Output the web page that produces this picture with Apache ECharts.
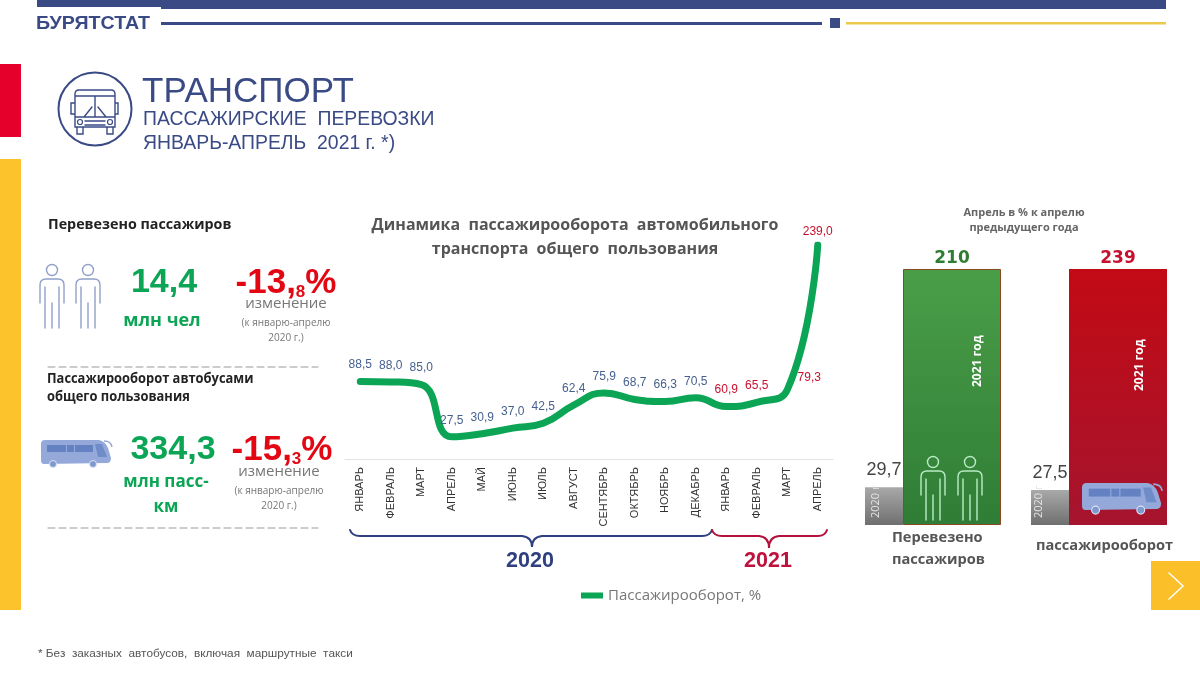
<!DOCTYPE html>
<html>
<head>
<meta charset="utf-8">
<title>Транспорт</title>
<script src="https://cdn.jsdelivr.net/npm/echarts@6/dist/echarts.min.js"></script>
<style>
  html, body { margin: 0; padding: 0; background: #fff; }
  #chart { width: 1200px; height: 675px; }
</style>
</head>
<body>
<div id="chart"></div>
<script>
// данные графика
const months = ['ЯНВАРЬ', 'ФЕВРАЛЬ', 'МАРТ', 'АПРЕЛЬ', 'МАЙ', 'ИЮНЬ', 'ИЮЛЬ', 'АВГУСТ', 'СЕНТЯБРЬ',
  'ОКТЯБРЬ', 'НОЯБРЬ', 'ДЕКАБРЬ', 'ЯНВАРЬ', 'ФЕВРАЛЬ', 'МАРТ', 'АПРЕЛЬ'];
const turnover = [88.5, 88.0, 85.0, 27.5, 30.9, 37.0, 42.5, 62.4, 75.9, 68.7, 66.3, 70.5, 60.9, 65.5, 79.3, 239.0];
const months2020 = 12; // первые 12 точек - 2020 год

const passengersApril = [29.7, 210];
const turnoverApril = [27.5, 239];

const BLUE = '#3a4a85';
const GREEN = '#0ba555';
const RED = '#e30613';
const SANS = '"Liberation Sans", Arial, sans-serif';
const OPEN = '"Open Sans", sans-serif';

const comma = v => String(v).replace('.', ',');

// graphic не знает type:'path', поэтому регистрируем каждую кривую как свою фигуру
let pathCount = 0;
function pathEl(d, style, z) {
  const name = 'slidePath' + (pathCount++);
  echarts.graphic.registerShape(name, echarts.graphic.extendPath(d, {}));
  return { type: name, z: z || 5, style };
}

// простые хелперы для оформления слайда
function rect(x, y, w, h, fill, z) {
  return { type: 'rect', shape: { x, y, width: w, height: h }, style: { fill }, z: z || 1 };
}
function text(x, y, str, font, fill, align, extra) {
  return Object.assign({
    type: 'text', x, y, z: 5,
    style: { text: str, font, fill, textAlign: align || 'left', textVerticalAlign: 'middle' }
  }, extra || {});
}
function stroke(d, color, width, z, dash) {
  return pathEl(d, { fill: 'none', stroke: color, lineWidth: width, lineDash: dash, lineCap: 'round' }, z);
}
function person(cx, cy, color) {
  const d = `M${cx - 12},${cy + 33} L${cx - 12},${cy + 15} Q${cx - 12},${cy + 9} ${cx - 6},${cy + 9} L${cx + 6},${cy + 9} Q${cx + 12},${cy + 9} ${cx + 12},${cy + 15} L${cx + 12},${cy + 33}` +
    ` M${cx - 7},${cy + 17} L${cx - 7},${cy + 58} M${cx + 7},${cy + 17} L${cx + 7},${cy + 58} M${cx},${cy + 33} L${cx},${cy + 58}`;
  return [
    stroke(d, color, 1.4, 8),
    { type: 'circle', z: 8, shape: { cx, cy, r: 5.5 }, style: { fill: 'none', stroke: color, lineWidth: 1.4 } }
  ];
}
function bus(x, y, scale) {
  const z = 8;
  return {
    type: 'group', x, y, scaleX: scale, scaleY: scale,
    children: [
      pathEl('M4,0 L58,0 Q64,1 67,8 L70,18 Q70,23 66,23 L3,24 Q0,24 0,20 L0,4 Q0,0 4,0 Z', { fill: '#94a9da' }, z),
      { type: 'rect', z, shape: { x: 6, y: 5, width: 19, height: 7 }, style: { fill: '#6482c2' } },
      { type: 'rect', z, shape: { x: 26, y: 5, width: 7, height: 7 }, style: { fill: '#6482c2' } },
      { type: 'rect', z, shape: { x: 34, y: 5, width: 18, height: 7 }, style: { fill: '#6482c2' } },
      pathEl('M54,4 L61,4 L66,17 L57,17 Z', { fill: '#6f8cc8' }, z),
      pathEl('M63,1 Q70,1 71,7', { fill: 'none', stroke: '#94a9da', lineWidth: 1.5 }, z),
      { type: 'circle', z, shape: { cx: 12, cy: 24, r: 3.5 }, style: { fill: '#7f98cf', stroke: '#dbe3f3', lineWidth: 1 } },
      { type: 'circle', z, shape: { cx: 52, cy: 24, r: 3.5 }, style: { fill: '#7f98cf', stroke: '#dbe3f3', lineWidth: 1 } }
    ]
  };
}

// шапка, цветные полосы и подписи вокруг графика
const graphics = [
  rect(37, 0, 124, 7, BLUE), rect(161, 0, 1005, 9, BLUE),
  rect(161, 22, 661, 3, BLUE), rect(830, 18, 10, 10, BLUE), rect(846, 22, 320, 2.5, '#ecc94b'),
  rect(0, 64, 21, 73, '#e4002b'), rect(0, 159, 21, 451, '#fdc32c'),
  rect(1151, 561, 49, 49, '#fbbf2a'),
  stroke('M1169,573 L1183,586 L1169,599', '#fff', 1.5),

  text(36, 24, 'БУРЯТСТАТ', 'bold 18px ' + SANS, BLUE, 'left', { scaleX: 1.09 }),
  text(142, 92, 'ТРАНСПОРТ', '35px ' + SANS, BLUE),
  text(143, 120, 'ПАССАЖИРСКИЕ  ПЕРЕВОЗКИ', '19.4px ' + SANS, BLUE),
  text(143, 144, 'ЯНВАРЬ-АПРЕЛЬ  2021 г. *)', '19.4px ' + SANS, BLUE),
  text(38, 654, '* Без  заказных  автобусов,  включая  маршрутные  такси', '11.8px ' + SANS, '#555'),

  // значок автобуса в заголовке
  { type: 'circle', z: 5, shape: { cx: 95, cy: 109, r: 36.5 }, style: { fill: 'none', stroke: BLUE, lineWidth: 2 } },
  stroke('M75,94 Q75,90 79,90 L111,90 Q115,90 115,94 L115,127 L75,127 Z M75,96 L115,96 M75,117 L115,117 M95,96 L95,117 M75,103 L71,103 L71,114 L75,114 M115,103 L118,103 L118,114 L115,114 M77,127 L77,134 L83,134 L83,127 M107,127 L107,134 L113,134 L113,127 M85,121 L105,121 M85,125 L105,125 M84,117 L92,107 M106,117 L98,107', BLUE, 1.4),
  { type: 'circle', z: 5, shape: { cx: 80, cy: 122, r: 2.5 }, style: { fill: 'none', stroke: BLUE, lineWidth: 1.2 } },
  { type: 'circle', z: 5, shape: { cx: 110, cy: 122, r: 2.5 }, style: { fill: 'none', stroke: BLUE, lineWidth: 1.2 } },

  // левая колонка
  text(48, 225, 'Перевезено пассажиров', 'bold 14.3px ' + OPEN, '#222'),
  ...person(52, 270, '#8fa0c8'), ...person(88, 270, '#8fa0c8'),
  text(164, 283, '14,4', 'bold 34px ' + SANS, GREEN, 'center'),
  text(162, 321, 'млн чел', 'bold 18px ' + OPEN, GREEN, 'center'),
  {
    type: 'text', x: 286, y: 283, z: 5,
    style: {
      text: '{b|-13,}{s|8}{b|%}', textAlign: 'center', textVerticalAlign: 'middle',
      rich: {
        b: { font: 'bold 35px ' + SANS, fill: RED },
        s: { font: 'bold 17px ' + SANS, fill: RED, verticalAlign: 'bottom' }
      }
    }
  },
  text(286, 304, 'изменение', '15px ' + OPEN, '#777', 'center'),
  text(286, 323, '(к январю-апрелю', '10px ' + OPEN, '#777', 'center'),
  text(286, 338, '2020 г.)', '10px ' + OPEN, '#777', 'center'),
  stroke('M48,367 L318,367', '#999', 1, 5, [7, 4]),

  text(47, 379, 'Пассажирооборот автобусами', 'bold 14px ' + OPEN, '#222', 'left', { scaleX: 0.92 }),
  text(47, 397, 'общего пользования', 'bold 14px ' + OPEN, '#222', 'left', { scaleX: 0.92 }),
  bus(41, 440, 1),
  text(173, 450, '334,3', 'bold 34px ' + SANS, GREEN, 'center'),
  text(166, 482, 'млн пасс-', 'bold 17px ' + OPEN, GREEN, 'center'),
  text(166, 507, 'км', 'bold 17px ' + OPEN, GREEN, 'center'),
  {
    type: 'text', x: 282, y: 450, z: 5,
    style: {
      text: '{b|-15,}{s|3}{b|%}', textAlign: 'center', textVerticalAlign: 'middle',
      rich: {
        b: { font: 'bold 35px ' + SANS, fill: RED },
        s: { font: 'bold 17px ' + SANS, fill: RED, verticalAlign: 'bottom' }
      }
    }
  },
  text(279, 472, 'изменение', '15px ' + OPEN, '#777', 'center'),
  text(279, 491, '(к январю-апрелю', '10px ' + OPEN, '#777', 'center'),
  text(279, 506, '2020 г.)', '10px ' + OPEN, '#777', 'center'),
  stroke('M48,528 L318,528', '#999', 1, 5, [7, 4]),

  // скобки и годы под осью
  stroke('M350,530 Q352,536 360,536 L522,536 Q532,537 532,547 Q532,537 542,536 L702,536 Q710,536 712,530', '#2f3f80', 2),
  stroke('M712,530 Q714,536 722,536 L759,536 Q769,537 769,548 Q769,537 779,536 L818,536 Q825,536 827,530', '#b4123c', 2),
  text(530, 561, '2020', 'bold 21.5px ' + SANS, '#2f3f80', 'center'),
  text(768, 561, '2021', 'bold 21.5px ' + SANS, '#c0103c', 'center'),

  // правая колонка
  text(1024, 213, 'Апрель в % к апрелю', 'bold 11px ' + OPEN, '#666', 'center'),
  text(1024, 228, 'предыдущего года', 'bold 11px ' + OPEN, '#666', 'center'),
  text(892, 538, 'Перевезено', 'bold 14.6px ' + OPEN, '#555'),
  text(892, 560, 'пассажиров', 'bold 14.6px ' + OPEN, '#555'),
  text(1036, 546, 'пассажирооборот', 'bold 14.6px ' + OPEN, '#555'),
  text(876, 518, '2020 г', '11px ' + OPEN, '#e4e4e4', 'left', { rotation: Math.PI / 2, z: 8 }),
  text(1039, 518, '2020 г', '11px ' + OPEN, '#e4e4e4', 'left', { rotation: Math.PI / 2, z: 8 }),
  text(978, 387, '2021 год', 'bold 12px ' + OPEN, '#fff', 'left', { rotation: Math.PI / 2, z: 8 }),
  text(1140, 391, '2021 год', 'bold 12px ' + OPEN, '#fff', 'left', { rotation: Math.PI / 2, z: 8 }),
  ...person(933, 462, '#b9ecc6'), ...person(970, 462, '#b9ecc6'),
  bus(1082, 483, 1.13)
];

// столбики справа: у каждого своя сетка, ширина у 2020 и 2021 разная
const barCells = [
  { value: passengersApril[0], left: 865, width: 38, max: 201, color: ['#a9a9a9', '#6f6f6f'], label: '#444', size: 18, bold: false },
  { value: passengersApril[1], left: 903, width: 98, max: 210, color: ['#4a9e48', '#2f7d36'], label: '#2e7d32', size: 17, bold: true, border: '#8a4a20' },
  { value: turnoverApril[0], left: 1031, width: 38, max: 201, color: ['#a9a9a9', '#6f6f6f'], label: '#444', size: 18, bold: false },
  { value: turnoverApril[1], left: 1069, width: 98, max: 239, color: ['#c20a14', '#a5142e'], label: '#c8102e', size: 17, bold: true }
];

const grid = [{ left: 345, top: 245, width: 488, height: 214 }];
const xAxis = [{
  type: 'category', data: months, gridIndex: 0,
  axisLine: { lineStyle: { color: '#e2e2e2' } },
  axisTick: { show: false },
  axisLabel: { interval: 0, rotate: 90, margin: 8, color: '#333', fontSize: 11, fontFamily: SANS }
}];
const yAxis = [{ type: 'value', gridIndex: 0, min: 3, max: 239, show: false }];
const series = [{
  name: 'Пассажирооборот, %',
  type: 'line',
  smooth: 0.5,
  showSymbol: true,
  symbol: 'circle',
  symbolSize: 1, // без символа подписи точек не рисуются
  lineStyle: { color: GREEN, width: 7, cap: 'round' },
  itemStyle: { color: GREEN },
  data: turnover.map((v, i) => {
    const item = {
      value: v,
      label: { color: i < months2020 ? '#46608f' : '#c8102e' }
    };
    // подпись марта 2021 сдвинута вправо от линии
    if (i === 14) item.label.offset = [22, 4];
    if (i === 15) item.label.offset = [0, 3];
    return item;
  }),
  label: {
    show: true, position: 'top', distance: 10,
    fontSize: 12, fontFamily: SANS,
    formatter: p => comma(p.value.toFixed(1))
  }
}];

barCells.forEach((c, idx) => {
  const n = idx + 1;
  grid.push({ left: c.left, width: c.width, top: 269, height: 256 });
  xAxis.push({ type: 'category', gridIndex: n, data: [''], show: false });
  yAxis.push({ type: 'value', gridIndex: n, min: 0, max: c.max, show: false });
  series.push({
    type: 'bar', xAxisIndex: n, yAxisIndex: n, barWidth: '100%',
    data: [c.value],
    itemStyle: {
      color: {
        type: 'linear', x: 0, y: 0, x2: 0, y2: 1,
        colorStops: [{ offset: 0, color: c.color[0] }, { offset: 1, color: c.color[1] }]
      },
      borderColor: c.border || 'transparent',
      borderWidth: c.border ? 1 : 0
    },
    label: {
      show: true, position: 'top', distance: c.bold ? 2 : 8,
      color: c.label, fontSize: c.size,
      fontWeight: c.bold ? 'bold' : 'normal',
      fontFamily: c.bold ? '"DejaVu Sans", sans-serif' : SANS,
      formatter: p => comma(p.value)
    }
  });
});

const myChart = echarts.init(document.getElementById('chart'), null, { renderer: 'canvas' });
myChart.setOption({
  animation: false,
  backgroundColor: '#fff',
  title: {
    text: 'Динамика  пассажирооборота  автомобильного\nтранспорта  общего  пользования',
    left: 570, top: 208, textAlign: 'center',
    textStyle: { color: '#555', fontSize: 16, fontWeight: 'bold', fontFamily: OPEN, lineHeight: 24 }
  },
  legend: {
    data: ['Пассажирооборот, %'],
    left: 576, top: 583,
    icon: 'rect', itemWidth: 22, itemHeight: 6, itemGap: 6,
    textStyle: { color: '#777', fontSize: 15, fontFamily: OPEN }
  },
  grid, xAxis, yAxis, series,
  graphic: { elements: graphics }
});
</script>
</body>
</html>
